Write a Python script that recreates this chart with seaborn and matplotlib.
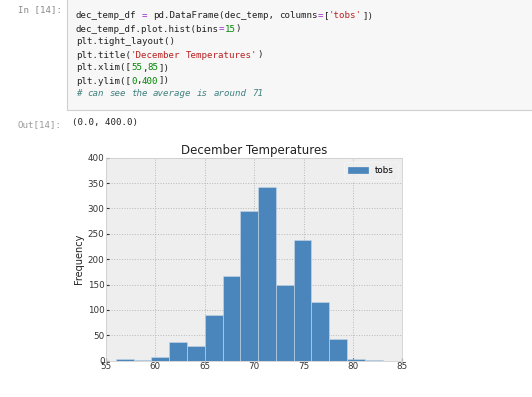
import re
import numpy as np
import pandas as pd
import matplotlib
matplotlib.use("Agg")
import matplotlib.pyplot as plt
import matplotlib.patches as mpatches
import seaborn as sns

# December temperature histogram, counts (15 bins from 56 to 83)
tobs_counts = [3, 2, 8, 37, 28, 91, 167, 294, 342, 150, 237, 115, 42, 4, 2]
tobs_min = 56
tobs_max = 83
n_bins = 15

# notebook cell text
in_prompt = "In [14]:"
out_prompt = "Out[14]:"
out_text = "(0.0, 400.0)"
code_lines = [
    "dec_temp_df = pd.DataFrame(dec_temp, columns=['tobs'])",
    "dec_temp_df.plot.hist(bins=15)",
    "plt.tight_layout()",
    "plt.title('December Temperatures')",
    "plt.xlim([55,85])",
    "plt.ylim([0,400])",
    "# can see the average is around 71",
]

W, H = 532, 397


def px(x, y):
    # pixel position (from top left) -> figure fraction
    return x / W, 1 - y / H


plt.style.use("bmh")
fig = plt.figure(figsize=(W / 100, H / 100), dpi=100)
fig.patch.set_facecolor("white")

# code cell box
x0, y0 = px(67, 110)
cell = mpatches.Rectangle((x0, y0), 1.0, 1.0, transform=fig.transFigure,
                          facecolor="#f7f7f7", edgecolor="#cfcfcf", linewidth=0.8)
fig.patches.append(cell)

mono = "DejaVu Sans Mono"
fsize = 6.62

# measure the real monospace advance as rendered
renderer = fig.canvas.get_renderer()
probe = fig.text(0, 0, "m" * 200, family=mono, fontsize=fsize)
probe2 = fig.text(0, 0, "m" * 100, family=mono, fontsize=fsize)
char_w = (probe.get_window_extent(renderer).width
          - probe2.get_window_extent(renderer).width) / 100
probe.remove()
probe2.remove()

fig.text(*px(62, 10), in_prompt, ha="right", va="center", family=mono,
         fontsize=fsize, color="#8a8a8a")
fig.text(*px(62, 125), out_prompt, ha="right", va="center", family=mono,
         fontsize=fsize, color="#9a9a9a")
fig.text(*px(72, 122), out_text, ha="left", va="center", family=mono,
         fontsize=fsize, color="#222222")

# simple syntax colouring: colour each char, then draw runs of same colour
token_re = re.compile(r"(#.*$)|('[^']*')|(\b\d+\b)|(=)|([A-Za-z_]\w*)|(.)")
kinds = {1: ("#408080", "italic"), 2: ("#BA2121", "normal"), 3: ("#008800", "normal"),
         4: ("#9a2bd0", "normal"), 0: ("#222222", "normal")}
for i, line in enumerate(code_lines):
    y = 16 + i * 13
    kind_of = [0] * len(line)
    for m in token_re.finditer(line):
        k = next((g for g in (1, 2, 3, 4) if m.group(g)), 0)
        for j in range(m.start(), m.end()):
            kind_of[j] = k
    j = 0
    while j < len(line):
        if line[j] == " ":
            j += 1
            continue
        start = j
        while j < len(line) and line[j] != " " and kind_of[j] == kind_of[start]:
            j += 1
        color, style = kinds[kind_of[start]]
        fig.text(*px(76 + start * char_w, y), line[start:j], ha="left", va="center",
                 family=mono, fontsize=fsize, color=color, style=style)

# histogram
edges = np.linspace(tobs_min, tobs_max, n_bins + 1)
centers = (edges[:-1] + edges[1:]) / 2
df = pd.DataFrame({"tobs": centers, "count": tobs_counts})

ax = fig.add_axes([106 / W, (H - 360.7) / H, 296.3 / W, 203 / H])
ax.set_axisbelow(True)
sns.histplot(data=df, x="tobs", weights="count", bins=n_bins,
             binrange=(tobs_min, tobs_max), color="#4a86bb",
             alpha=1, edgecolor="#c9d8e8", linewidth=0.4, ax=ax)
ax.set_xlim(55, 85)
ax.set_ylim(0, 400)
ax.set_xlabel("")
ax.set_ylabel("Frequency", fontsize=7, color="#222222", labelpad=3)
ax.set_title("December Temperatures", fontsize=8.5, color="#222222", pad=3)
ax.tick_params(labelsize=6.3, colors="#333333", length=2, pad=1)
ax.grid(True, linestyle=":", color="#b8b8b8", linewidth=0.7)
for s in ax.spines.values():
    s.set_color("#d0d0d0")
    s.set_linewidth(0.6)

handle = mpatches.Patch(color="#4a86bb", label="tobs")
leg = ax.legend(handles=[handle], loc="upper right", fontsize=6.3,
                frameon=True, facecolor="#eeeeee", edgecolor="#f8f8f8",
                handlelength=2.2, borderpad=0.5)

fig.savefig("out.png", dpi=100)
